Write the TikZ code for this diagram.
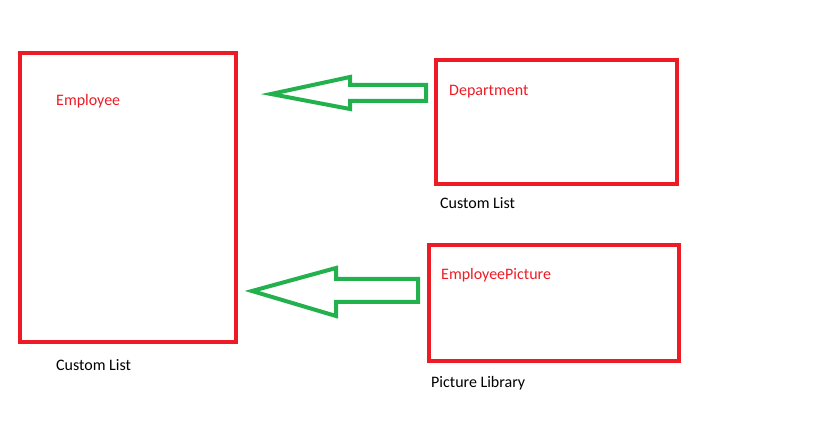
\documentclass[tikz,border=0pt]{standalone}
\usepackage{fontspec}
\setmainfont{Carlito}
\definecolor{bred}{RGB}{237,28,36}
\definecolor{bgreen}{RGB}{34,177,76}
\begin{document}
\begin{tikzpicture}[x=1pt,y=-1pt,
  box/.style={draw=bred,line width=4pt},
  lbl/.style={anchor=west,inner sep=0pt,font=\fontsize{16}{18}\selectfont},
  arr/.style={draw=bgreen,line width=4pt,line join=miter}]
\useasboundingbox (0,0) rectangle (822,435);
\draw[box] (20,53) rectangle (236,342);
\draw[box] (436,60) rectangle (677,184);
\draw[box] (429,245) rectangle (679,361);
\node[lbl,text=bred] (emp) at (56,101) {Employee};
\node[lbl] (cl1) at (56,365) {Custom List};
\node[lbl,text=bred] (dep) at (449,92) {Department};
\node[lbl] (cl2) at (440,203) {Custom List};
\node[lbl,text=bred] (pic) at (441,275) {EmployeePicture};
\node[lbl] (pl) at (431,383) {Picture Library};
\draw[arr] (271,94) -- (350,77) -- (350,85) -- (426,85) -- (426,101) -- (350,101) -- (350,109) -- cycle;
\draw[arr] (252,291) -- (336,268) -- (336,279) -- (418,279) -- (418,302) -- (336,302) -- (336,316) -- cycle;
\end{tikzpicture}
\end{document}
